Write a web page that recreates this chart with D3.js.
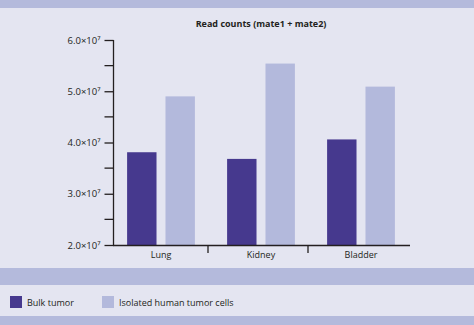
<!DOCTYPE html>
<html>
<head>
<meta charset="utf-8">
<script src="https://cdn.jsdelivr.net/npm/d3@7"></script>
<style>
  body { margin: 0; background: #e4e5f1; }
  text { font-family: "Open Sans", sans-serif; fill: #231f20; }
</style>
</head>
<body>
<script>
// Data
const categories = ["Lung", "Kidney", "Bladder"];
const seriesNames = ["Bulk tumor", "Isolated human tumor cells"];
const bulkTumor = [3.81e7, 3.68e7, 4.06e7];
const isolatedCells = [4.90e7, 5.54e7, 5.09e7];
const yTicks = [2e7, 3e7, 4e7, 5e7, 6e7];
const yTickLabels = ["2.0\u00d710\u2077", "3.0\u00d710\u2077", "4.0\u00d710\u2077", "5.0\u00d710\u2077", "6.0\u00d710\u2077"];
const yMinorTicks = [2.5e7, 3.5e7, 4.5e7, 5.5e7];

const W = 474, H = 325;
const dark = "#46398e", light = "#b3b9dc", band = "#b4badc";

const svg = d3.select("body").append("svg")
    .attr("width", W).attr("height", H);

// background and decorative bands
svg.append("rect").attr("width", W).attr("height", H).attr("fill", "#e4e5f1");
svg.append("rect").attr("x", 0).attr("y", 0).attr("width", W).attr("height", 8).attr("fill", band);
svg.append("rect").attr("x", 0).attr("y", 268).attr("width", W).attr("height", 17).attr("fill", band);
svg.append("rect").attr("x", 0).attr("y", 316).attr("width", W).attr("height", 9).attr("fill", band);

const x0 = d3.scaleBand().domain(categories).range([111, 411]);
const x1 = d3.scaleBand().domain([0, 1]).range([0, 67.8]).paddingInner(0.234);
const y = d3.scaleLinear().domain([2e7, 6e7]).range([245, 40]);

const groupOffset = (x0.bandwidth() - 67.8) / 2;

const rows = categories.map((c, i) => ({ cat: c, values: [bulkTumor[i], isolatedCells[i]] }));

svg.selectAll(".grp")
    .data(rows)
    .enter().append("g")
    .attr("transform", d => "translate(" + (x0(d.cat) + groupOffset) + ",0)")
    .selectAll("rect")
    .data(d => d.values)
    .enter().append("rect")
    .attr("x", (d, i) => x1(i))
    .attr("width", x1.bandwidth())
    .attr("y", d => y(d))
    .attr("height", d => y(2e7) - y(d))
    .attr("fill", (d, i) => i === 0 ? dark : light);

// y axis
const yAxis = svg.append("g")
    .attr("transform", "translate(113.5,0)")
    .call(d3.axisLeft(y).tickValues(yTicks).tickSize(9).tickPadding(4)
        .tickFormat((d, i) => yTickLabels[i]));
yAxis.select(".domain").remove();
yAxis.selectAll("line").attr("stroke", "#231f20").attr("stroke-width", 1.3);
yAxis.selectAll("text").attr("font-size", "9.5px").attr("font-family", "Open Sans").attr("fill", "#231f20");

svg.append("g")
    .attr("transform", "translate(113.5,0)")
    .selectAll("line")
    .data(yMinorTicks)
    .enter().append("line")
    .attr("x1", -9).attr("x2", 0)
    .attr("y1", d => y(d)).attr("y2", d => y(d))
    .attr("stroke", "#231f20").attr("stroke-width", 1.3);

svg.append("line")
    .attr("x1", 113.5).attr("x2", 113.5)
    .attr("y1", y(6e7)).attr("y2", y(2e7))
    .attr("stroke", "#231f20").attr("stroke-width", 1.3);

// x axis
svg.append("line")
    .attr("x1", 113).attr("x2", 410)
    .attr("y1", 245.5).attr("y2", 245.5)
    .attr("stroke", "#231f20").attr("stroke-width", 1.3);

svg.selectAll(".sep")
    .data(categories.slice(1))
    .enter().append("line")
    .attr("x1", d => x0(d) - 3).attr("x2", d => x0(d) - 3)
    .attr("y1", 245).attr("y2", 253)
    .attr("stroke", "#231f20").attr("stroke-width", 1.3);

svg.selectAll(".catlabel")
    .data(categories)
    .enter().append("text")
    .attr("x", d => x0(d) + x0.bandwidth() / 2)
    .attr("y", 258)
    .attr("text-anchor", "middle")
    .attr("font-size", "9px")
    .text(d => d);

// title
svg.append("text")
    .attr("x", 261).attr("y", 27)
    .attr("text-anchor", "middle")
    .attr("font-size", "9px")
    .attr("font-weight", "bold")
    .text("Read counts (mate1 + mate2)");

// legend
const legendX = [10, 102];
const leg = svg.selectAll(".leg")
    .data(seriesNames)
    .enter().append("g")
    .attr("transform", (d, i) => "translate(" + legendX[i] + ",296)");
leg.append("rect").attr("width", 12).attr("height", 12)
    .attr("fill", (d, i) => i === 0 ? dark : light);
leg.append("text").attr("x", 17).attr("y", 10)
    .attr("font-size", "9px")
    .text(d => d);
</script>
</body>
</html>
